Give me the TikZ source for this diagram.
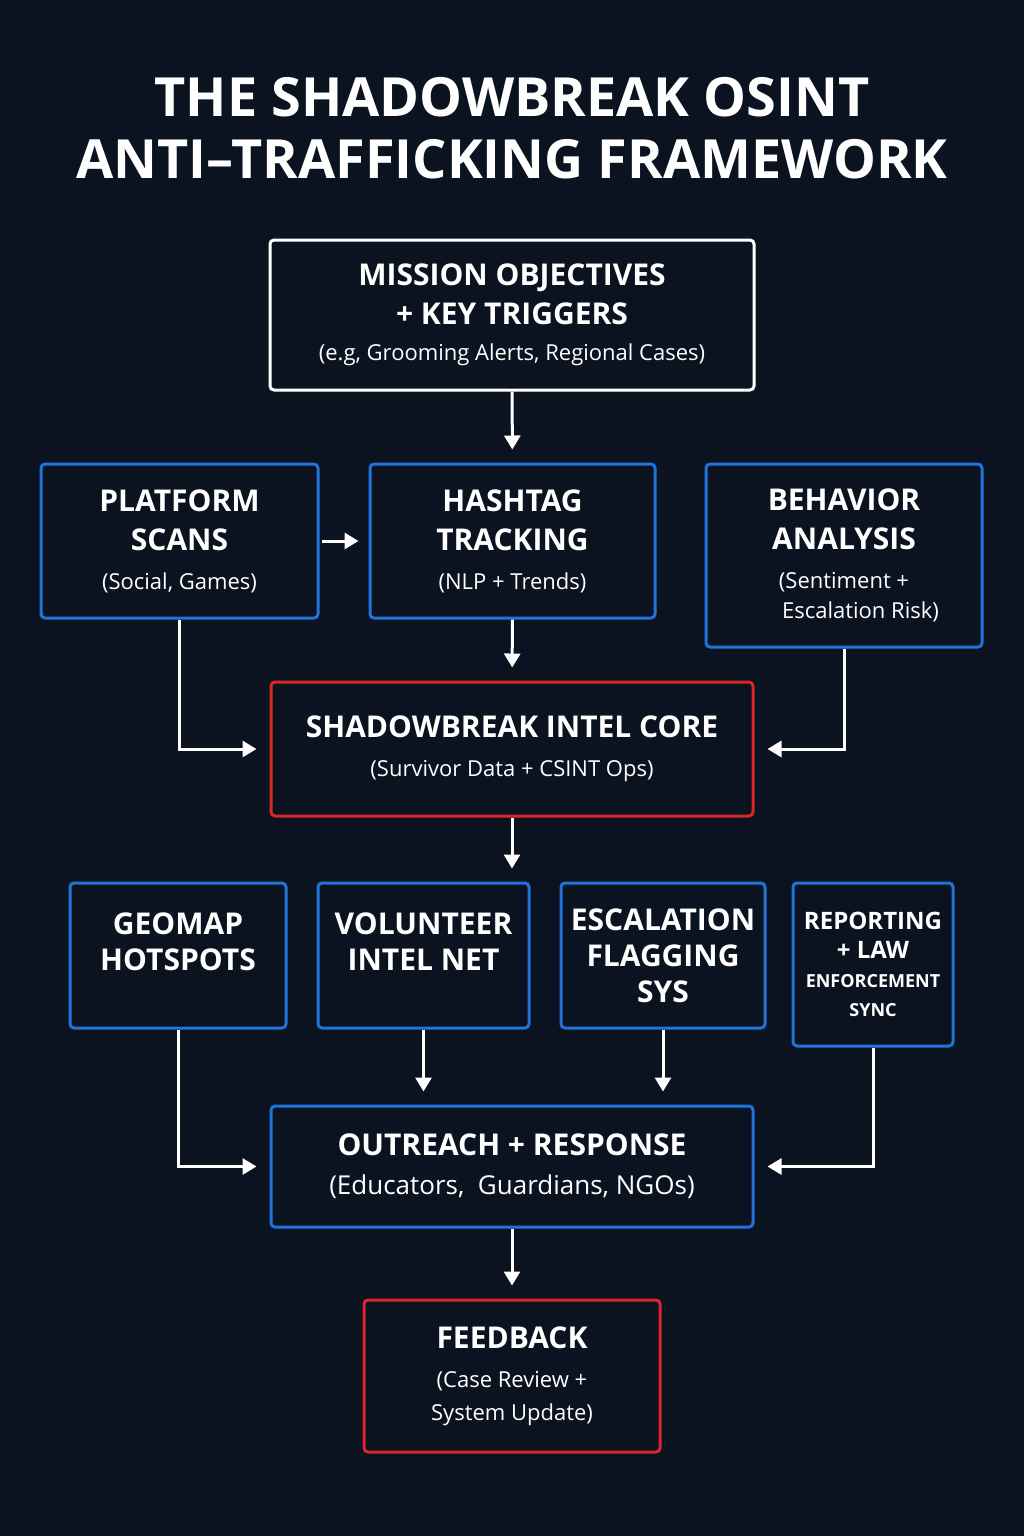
\documentclass[tikz,border=0pt]{standalone}
\usepackage{fontspec}
\setmainfont{Open Sans}
\usetikzlibrary{arrows.meta}
\definecolor{bg}{HTML}{0B1220}
\definecolor{bblue}{HTML}{2073D8}
\definecolor{bred}{HTML}{D8262A}
\tikzset{
  box/.style={draw, line width=3pt, rounded corners=4pt, align=center, text=white, inner sep=0pt,
    font=\fontsize{30}{39}\selectfont},
  wbox/.style={box, draw=white},
  blbox/.style={box, draw=bblue},
  rbox/.style={box, draw=bred},
  line/.style={draw=white, line width=3pt, -{Triangle[length=14pt,width=16pt]}, shorten >=13pt}
}
\newcommand{\hdt}[1]{{\fontsize{30}{39}\selectfont\bfseries #1}}
\newcommand{\sbt}[1]{{\fontsize{22}{30}\selectfont #1}}
\begin{document}
\begin{tikzpicture}[x=1pt,y=-1pt]
\fill[bg] (0,0) rectangle (1024,1536);
\useasboundingbox (0,0) rectangle (1024,1536);
\node[text=white, align=center, font=\fontsize{54}{62}\selectfont\bfseries] (title) at (512,128)
  {THE SHADOWBREAK OSINT\\ANTI–TRAFFICKING FRAMEWORK};
% boxes
\node[wbox, minimum width=484pt, minimum height=150pt] (mission) at (512,315)
  {\hdt{MISSION OBJECTIVES}\\\hdt{+ KEY TRIGGERS}\\[-3pt]\sbt{(e.g,\ Grooming Alerts, Regional Cases)}};
\node[blbox, minimum width=277pt, minimum height=154pt] (platform) at (179.5,541)
  {\hdt{PLATFORM}\\\hdt{SCANS}\\\sbt{(Social, Games)}};
\node[blbox, minimum width=285pt, minimum height=154pt] (hashtag) at (512.5,541)
  {\hdt{HASHTAG}\\\hdt{TRACKING}\\\sbt{(NLP + Trends)}};
\node[blbox, minimum width=276pt, minimum height=183pt] (behavior) at (844,555.5)
  {\hdt{BEHAVIOR}\\\hdt{ANALYSIS}\\\sbt{(Sentiment +\hspace*{3.5em}}\\[-9pt]\sbt{\hspace*{1.5em}Escalation Risk)}};
\node[rbox, minimum width=482pt, minimum height=134pt] (core) at (512,749)
  {\hdt{SHADOWBREAK INTEL CORE}\\\sbt{(Survivor Data + CSINT Ops)}};
\node[blbox, minimum width=216pt, minimum height=145pt] (geomap) at (178,955.5)
  {\hdt{GEOMAP}\\[-3pt]\hdt{HOTSPOTS}\\[-12pt]\mbox{}};
\node[blbox, minimum width=211pt, minimum height=145pt] (volunteer) at (423.5,955.5)
  {\hdt{VOLUNTEER}\\[-3pt]\hdt{INTEL NET}\\[-12pt]\mbox{}};
\node[blbox, minimum width=204pt, minimum height=145pt] (escalation) at (663,955.5)
  {\hdt{ESCALATION}\\[-3pt]\hdt{FLAGGING}\\[-3pt]\hdt{SYS}};
\node[blbox, minimum width=160pt, minimum height=163pt, font=\fontsize{24}{29}\selectfont] (reporting) at (873,964.5)
  {{\fontsize{24}{29}\selectfont\bfseries REPORTING}\\{\fontsize{24}{29}\selectfont\bfseries + LAW}\\{\fontsize{18}{29}\selectfont\bfseries ENFORCEMENT}\\{\fontsize{18}{29}\selectfont\bfseries SYNC}};
\node[blbox, minimum width=482pt, minimum height=121pt] (outreach) at (512,1166.5)
  {\hdt{OUTREACH + RESPONSE}\\{\fontsize{26}{36}\selectfont(Educators,\ \ Guardians, NGOs)}};
\node[rbox, minimum width=296pt, minimum height=152pt] (feedback) at (512,1376)
  {\hdt{FEEDBACK}\\\sbt{(Case Review +}\\[-6pt]\sbt{System Update)}};
% connectors
\path[line] (mission) -- (hashtag);
\path[line, shorten <=2pt, shorten >=10pt] (platform.east) -- (hashtag.west);
\path[line] (hashtag) -- (core);
\path[line] (platform.south) |- (core.west);
\path[line] (behavior.south) |- (core.east);
\path[line] (core) -- (reporting.north -| core.south);
\path[line] (volunteer.south) -- (volunteer.south |- outreach.north);
\path[line] (escalation.south) -- (escalation.south |- outreach.north);
\path[line] (geomap.south) |- (outreach.west);
\path[line] (reporting.south) |- (outreach.east);
\path[line] (outreach) -- (feedback);
\end{tikzpicture}
\end{document}
